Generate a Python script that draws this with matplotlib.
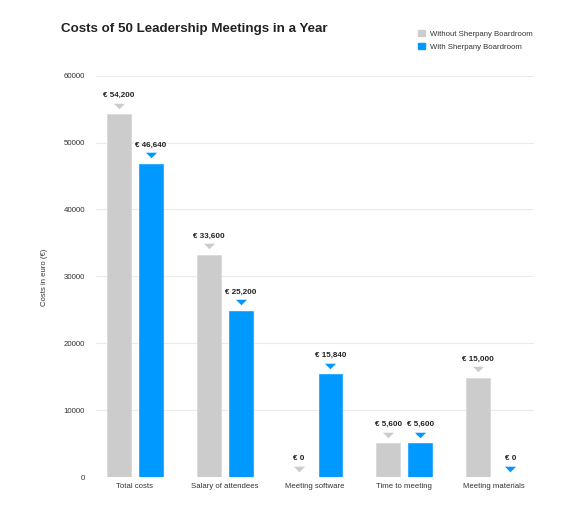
import matplotlib.pyplot as plt
from matplotlib.path import Path
from matplotlib.patches import Patch
from matplotlib.transforms import offset_copy

plt.rcParams['font.family'] = ['Liberation Sans', 'DejaVu Sans']

categories = ['Total costs', 'Salary of attendees', 'Meeting software',
              'Time to meeting', 'Meeting materials']
without_vals = [54200, 33250, 0, 5050, 14850]
with_vals = [46800, 24850, 15350, 5050, 0]
without_labels = ['€ 54,200', '€ 33,600', '€ 0', '€ 5,600', '€ 15,000']
with_labels = ['€ 46,640', '€ 25,200', '€ 15,840', '€ 5,600', '€ 0']
yticks = [0, 10000, 20000, 30000, 40000, 50000, 60000]

gray = '#cccccc'
blue = '#0099ff'

fig = plt.figure(figsize=(5.76, 5.12), dpi=100)
ax = fig.add_axes([96 / 576, 35 / 512, 438 / 576, 401.4 / 512])

x = list(range(len(categories)))
w = 0.267
off = 0.178
xg = [i - off for i in x]
xb = [i + off for i in x]
ax.bar(xg, without_vals, width=w, color=gray, edgecolor='#d9d9d9', linewidth=0.6, zorder=2)
ax.bar(xb, with_vals, width=w, color=blue, edgecolor='#26a8ff', linewidth=0.6, zorder=2)

# small down-pointing triangles above the bars
tri = Path([(-1, 0.5), (1, 0.5), (0, -0.5), (-1, 0.5)],
           [Path.MOVETO, Path.LINETO, Path.LINETO, Path.CLOSEPOLY])
shift = offset_copy(ax.transData, fig=fig, y=8.5, units='dots')
ax.plot(xg, without_vals, ls='none', marker=tri, ms=8, color=gray, mew=0,
        transform=shift, clip_on=False, zorder=3)
ax.plot(xb, with_vals, ls='none', marker=tri, ms=8, color=blue, mew=0,
        transform=shift, clip_on=False, zorder=3)

for xs, vals, labs in [(xg, without_vals, without_labels), (xb, with_vals, with_labels)]:
    for xi, v, lab in zip(xs, vals, labs):
        ax.annotate(lab, (xi, v), xytext=(0, 13.4), textcoords='offset points',
                    ha='center', va='center', fontsize=5.8, fontweight='bold',
                    color='#222222', annotation_clip=False)

ax.set_xlim(-0.432, 4.443)
ax.set_ylim(0, 60000)
ax.set_yticks(yticks)
ax.set_yticklabels([str(t) for t in yticks])
ax.set_xticks(x)
ax.set_xticklabels(categories)
ax.tick_params(axis='y', length=0, pad=8.0, labelsize=5.7, labelcolor='#333333')
ax.tick_params(axis='x', length=0, pad=4.2, labelsize=5.6, labelcolor='#333333')
ax.grid(axis='y', color='#ebebeb', linewidth=0.8, zorder=0)
ax.set_axisbelow(True)
for s in ax.spines.values():
    s.set_visible(False)

fig.text(45 / 576, 1 - 277 / 512, 'Costs in euro (€)', rotation=90,
         ha='center', va='center', fontsize=5.6, color='#333333')

fig.text(61 / 576, 1 - 32 / 512, 'Costs of 50 Leadership Meetings in a Year',
         ha='left', va='baseline', fontsize=9.6, fontweight='bold', color='#222222')

handles = [Patch(color=gray, label='Without Sherpany Boardroom'),
           Patch(color=blue, label='With Sherpany Boardroom')]
fig.legend(handles=handles, loc='upper left', bbox_to_anchor=(418 / 576, 1 - 30 / 512),
           frameon=False, fontsize=5.6, handlelength=0.9, handleheight=0.9,
           handletextpad=0.7, labelspacing=0.63, borderpad=0, borderaxespad=0,
           labelcolor='#333333')

fig.savefig('out.png', dpi=100)
